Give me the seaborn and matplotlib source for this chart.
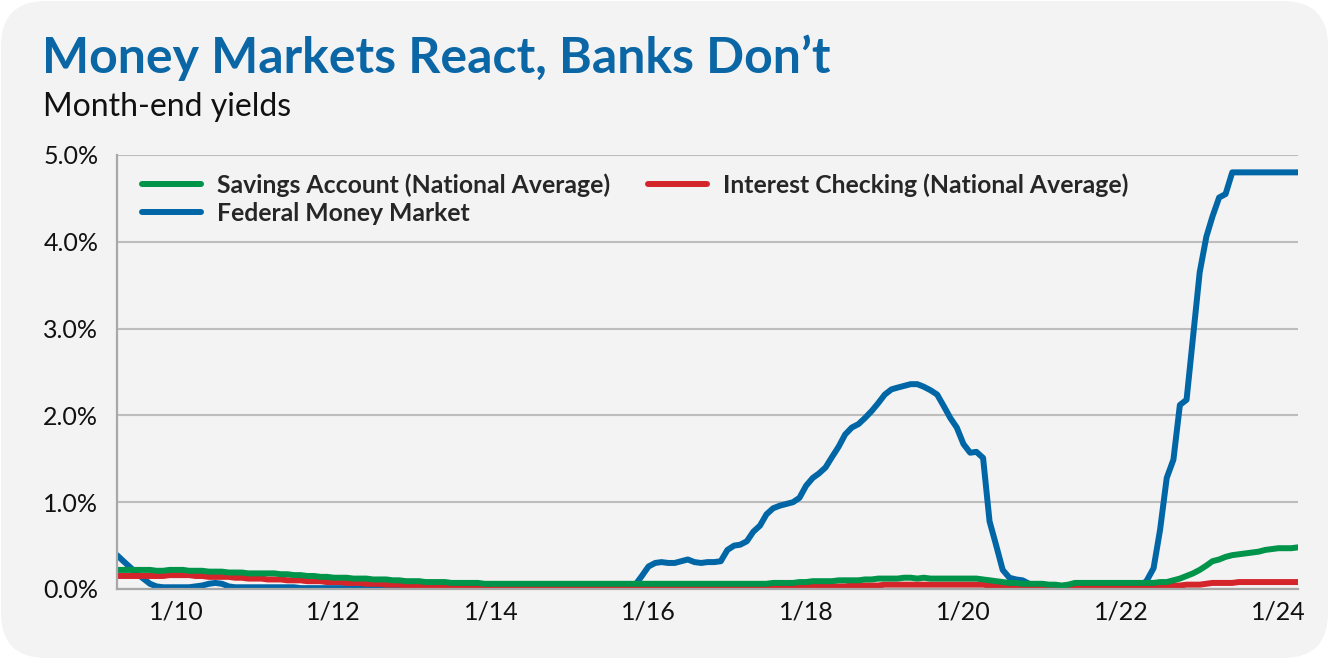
import numpy as np
import pandas as pd
import matplotlib
matplotlib.use("Agg")
import matplotlib.pyplot as plt
from matplotlib.patches import FancyBboxPatch
import seaborn as sns

# ---------------- data (month-end yields, %) ----------------
start_month = "2009-04-01"

savings = [
    0.22, 0.22, 0.22, 0.22, 0.22, 0.22, 0.21, 0.21, 0.22, 0.22, 0.22, 0.21,
    0.21, 0.21, 0.20, 0.20, 0.20, 0.19, 0.19, 0.19, 0.18, 0.18, 0.18, 0.18,
    0.18, 0.17, 0.17, 0.16, 0.16, 0.15, 0.15, 0.14, 0.14, 0.13, 0.13, 0.13,
    0.12, 0.12, 0.12, 0.11, 0.11, 0.11, 0.10, 0.10, 0.09, 0.09, 0.09, 0.08,
    0.08, 0.08, 0.08, 0.07, 0.07, 0.07, 0.07, 0.07, 0.06, 0.06, 0.06, 0.06,
    0.06, 0.06, 0.06, 0.06, 0.06, 0.06, 0.06, 0.06, 0.06, 0.06, 0.06, 0.06,
    0.06, 0.06, 0.06, 0.06, 0.06, 0.06, 0.06, 0.06, 0.06, 0.06, 0.06, 0.06,
    0.06, 0.06, 0.06, 0.06, 0.06, 0.06, 0.06, 0.06, 0.06, 0.06, 0.06, 0.06,
    0.06, 0.06, 0.06, 0.06, 0.07, 0.07, 0.07, 0.07, 0.08, 0.08, 0.09, 0.09,
    0.09, 0.09, 0.10, 0.10, 0.10, 0.10, 0.11, 0.11, 0.12, 0.12, 0.12, 0.12,
    0.13, 0.13, 0.12, 0.13, 0.12, 0.12, 0.12, 0.12, 0.12, 0.12, 0.12, 0.12,
    0.11, 0.10, 0.09, 0.08, 0.07, 0.07, 0.06, 0.06, 0.06, 0.06, 0.05, 0.05,
    0.04, 0.05, 0.07, 0.07, 0.07, 0.07, 0.07, 0.07, 0.07, 0.07, 0.07, 0.07,
    0.07, 0.07, 0.07, 0.08, 0.08, 0.10, 0.12, 0.15, 0.18, 0.22, 0.27, 0.32,
    0.34, 0.37, 0.39, 0.40, 0.41, 0.42, 0.43, 0.45, 0.46, 0.47, 0.47, 0.47,
    0.48,
]

checking = [
    0.15, 0.15, 0.15, 0.15, 0.15, 0.15, 0.15, 0.15, 0.16, 0.16, 0.16, 0.16,
    0.15, 0.15, 0.14, 0.14, 0.14, 0.14, 0.13, 0.13, 0.12, 0.12, 0.12, 0.11,
    0.11, 0.11, 0.10, 0.10, 0.10, 0.09, 0.09, 0.09, 0.08, 0.08, 0.08, 0.07,
    0.07, 0.07, 0.06, 0.06, 0.06, 0.05, 0.05, 0.05, 0.04, 0.04, 0.04, 0.04,
    0.03, 0.03, 0.03, 0.03, 0.03, 0.03, 0.03, 0.03, 0.02, 0.02, 0.02, 0.02,
    0.02, 0.02, 0.02, 0.02, 0.02, 0.02, 0.02, 0.02, 0.02, 0.02, 0.02, 0.02,
    0.02, 0.02, 0.02, 0.02, 0.02, 0.02, 0.02, 0.02, 0.02, 0.02, 0.02, 0.02,
    0.02, 0.02, 0.02, 0.02, 0.02, 0.02, 0.02, 0.02, 0.02, 0.02, 0.02, 0.02,
    0.02, 0.02, 0.02, 0.02, 0.02, 0.02, 0.02, 0.02, 0.02, 0.03, 0.03, 0.03,
    0.03, 0.03, 0.03, 0.03, 0.04, 0.04, 0.04, 0.04, 0.04, 0.05, 0.05, 0.05,
    0.05, 0.05, 0.05, 0.05, 0.05, 0.05, 0.05, 0.05, 0.05, 0.05, 0.05, 0.05,
    0.05, 0.04, 0.03, 0.03, 0.03, 0.03, 0.02, 0.02, 0.02, 0.02, 0.02, 0.02,
    0.02, 0.02, 0.03, 0.03, 0.03, 0.03, 0.03, 0.03, 0.03, 0.03, 0.03, 0.03,
    0.03, 0.03, 0.03, 0.03, 0.04, 0.04, 0.04, 0.05, 0.05, 0.05, 0.06, 0.07,
    0.07, 0.07, 0.07, 0.08, 0.08, 0.08, 0.08, 0.08, 0.08, 0.08, 0.08, 0.08,
    0.08,
]

money_market = [
    0.39, 0.32, 0.25, 0.18, 0.12, 0.06, 0.03, 0.02, 0.02, 0.02, 0.02, 0.02,
    0.03, 0.04, 0.06, 0.07, 0.06, 0.03, 0.02, 0.02, 0.02, 0.02, 0.02, 0.02,
    0.02, 0.02, 0.02, 0.02, 0.01, 0.01, 0.01, 0.01, 0.01, 0.01, 0.01, 0.01,
    0.01, 0.01, 0.01, 0.01, 0.01, 0.01, 0.01, 0.01, 0.01, 0.01, 0.01, 0.01,
    0.01, 0.01, 0.01, 0.01, 0.01, 0.01, 0.01, 0.01, 0.01, 0.01, 0.01, 0.01,
    0.01, 0.01, 0.01, 0.01, 0.01, 0.01, 0.01, 0.01, 0.01, 0.01, 0.01, 0.01,
    0.01, 0.01, 0.01, 0.01, 0.01, 0.01, 0.01, 0.05, 0.15, 0.26, 0.30, 0.31,
    0.30, 0.30, 0.32, 0.34, 0.31, 0.30, 0.31, 0.31, 0.32, 0.45, 0.50, 0.51,
    0.55, 0.66, 0.73, 0.86, 0.93, 0.96, 0.98, 1.00, 1.05, 1.19, 1.28, 1.33,
    1.40, 1.52, 1.64, 1.78, 1.86, 1.90, 1.97, 2.05, 2.14, 2.24, 2.30, 2.32,
    2.34, 2.36, 2.36, 2.33, 2.29, 2.24, 2.11, 1.97, 1.86, 1.67, 1.57, 1.58,
    1.51, 0.78, 0.50, 0.22, 0.13, 0.11, 0.10, 0.06, 0.04, 0.02, 0.01, 0.01,
    0.01, 0.01, 0.01, 0.01, 0.01, 0.01, 0.01, 0.01, 0.01, 0.01, 0.01, 0.01,
    0.02, 0.10, 0.24, 0.68, 1.28, 1.49, 2.12, 2.18, 2.90, 3.65, 4.06, 4.29,
    4.51, 4.55, 4.80, 4.80, 4.80, 4.80, 4.80, 4.80, 4.80, 4.80, 4.80, 4.80,
    4.80,
]

series_names = [
    "Savings Account (National Average)",
    "Interest Checking (National Average)",
    "Federal Money Market",
]
series_colors = ["#00934a", "#d4252b", "#0066a6"]

x_tick_years = [2010, 2012, 2014, 2016, 2018, 2020, 2022, 2024]
x_tick_labels = ["1/10", "1/12", "1/14", "1/16", "1/18", "1/20", "1/22", "1/24"]
y_ticks = [0, 1, 2, 3, 4, 5]
y_tick_labels = ["0.0%", "1.0%", "2.0%", "3.0%", "4.0%", "5.0%"]

title = "Money Markets React, Banks Don\u2019t"
subtitle = "Month-end yields"

# ---------------- build frame ----------------
dates = pd.date_range(start_month, periods=len(savings), freq="MS")
df = pd.DataFrame({
    "date": np.tile(dates.values, 3),
    "yield": savings + checking + money_market,
    "series": np.repeat(series_names, len(dates)),
})

# ---------------- style ----------------
sns.set_style("white")
plt.rcParams["font.family"] = ["Lato", "DejaVu Sans"]

W, H = 1329, 659
fig = plt.figure(figsize=(W / 100, H / 100), dpi=100)
fig.patch.set_facecolor("white")
bg = FancyBboxPatch((0.01, 0.01), W / 100 - 0.02, H / 100 - 0.02,
                    boxstyle="round,pad=0,rounding_size=0.45",
                    transform=fig.dpi_scale_trans, facecolor="#f3f3f3",
                    edgecolor="none", zorder=-10)
fig.patches.append(bg)

ax = fig.add_axes([117 / W, (H - 589) / H, (1298 - 117) / W, (589 - 155) / H])
ax.patch.set_alpha(0)

palette = dict(zip(series_names, series_colors))
draw_order = [series_names[2], series_names[1], series_names[0]]
sns.lineplot(data=df, x="date", y="yield", hue="series", hue_order=draw_order,
             palette=palette, linewidth=4.3, ax=ax, legend=False,
             solid_capstyle="round", solid_joinstyle="round")

ax.set_xlim(dates[0], dates[-1])
ax.set_ylim(0, 5.0)
ax.set_yticks(y_ticks)
ax.set_yticklabels(y_tick_labels)
ax.set_xticks([pd.Timestamp(f"{y}-01-01") for y in x_tick_years])
ax.set_xticklabels(x_tick_labels)
ax.set_xlabel("")
ax.set_ylabel("")

ax.set_axisbelow(True)
ax.yaxis.grid(True, color="#bdbdbd", linewidth=1.5)
ax.xaxis.grid(False)
for s in ["top", "right"]:
    ax.spines[s].set_visible(False)
for s in ["left", "bottom"]:
    ax.spines[s].set_color("#a8a8a8")
    ax.spines[s].set_linewidth(1.6)
ax.tick_params(axis="both", length=0, labelsize=18, labelcolor="#111111")
ax.tick_params(axis="y", pad=13.5)
ax.tick_params(axis="x", pad=8)

lines = ax.get_lines()
ax.legend([lines[2], lines[0], lines[1]],
          [series_names[0], series_names[2], series_names[1]],
          ncol=2, loc="upper left", bbox_to_anchor=(0.021, 0.958),
          frameon=False, prop={"size": 17.8, "weight": "bold"},
          handlelength=2.4, handletextpad=0.66, columnspacing=1.5,
          labelspacing=0.2, borderaxespad=0, borderpad=0)

fig.text(42 / W, 1 - 73 / H, title, fontsize=36, fontweight="bold",
         color="#0b66a6", va="baseline", ha="left")
fig.text(43 / W, 1 - 116 / H, subtitle, fontsize=23, color="#111111",
         va="baseline", ha="left")

fig.savefig("out.png", dpi=100, facecolor=fig.get_facecolor())
